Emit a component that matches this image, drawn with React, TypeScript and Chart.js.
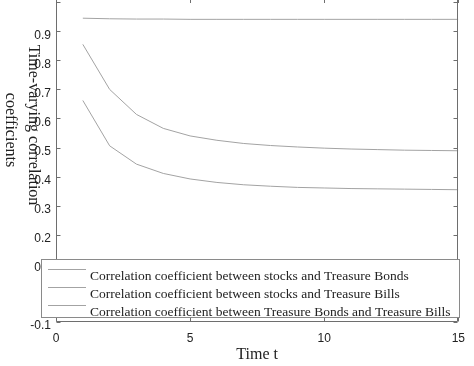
import { useEffect, useRef } from 'react';
import { Chart, registerables } from 'chart.js';

Chart.register(...registerables);

const timeSteps = [1, 2, 3, 4, 5, 6, 7, 8, 9, 10, 11, 12, 13, 14, 15];
const stocksBonds = [0.855, 0.70, 0.614, 0.566, 0.54, 0.525, 0.514, 0.507, 0.502, 0.498, 0.495, 0.493, 0.491, 0.490, 0.489];
const stocksBills = [0.662, 0.506, 0.443, 0.411, 0.392, 0.38, 0.372, 0.367, 0.363, 0.361, 0.359, 0.358, 0.357, 0.356, 0.355];
const bondsBills = [0.945, 0.943, 0.942, 0.942, 0.941, 0.941, 0.941, 0.941, 0.941, 0.941, 0.941, 0.941, 0.941, 0.941, 0.941];
const seriesLabels = [
  'Correlation coefficient between stocks and Treasure Bonds',
  'Correlation coefficient between stocks and Treasure Bills',
  'Correlation coefficient between Treasure Bonds and Treasure Bills',
];
const yTitleLines = ['Time-varying correlation', 'coefficients'];
const xTitle = 'Time t';

const OFFSET = 10; // canvas is shifted up by this many px
const LINE_COLOR = '#a3a3a3';
const AXIS_COLOR = '#6e6e6e';
const TEXT_COLOR = '#222222';
const SERIF = '"Liberation Serif", "Times New Roman", serif';
const SANS = '"Liberation Sans", Arial, sans-serif';

const framePlugin = {
  id: 'framePlugin',
  afterDraw(chart: any) {
    const { ctx, chartArea } = chart;
    const { left, right, top, bottom } = chartArea;
    const xs = chart.scales.x;
    const ys = chart.scales.y;
    const L = Math.round(left) + 0.5;
    const R = Math.round(right) - 0.5;
    const T = Math.min(Math.round(top), OFFSET) - 2.5; // top edge lies above the visible page
    const B = Math.round(bottom) - 0.5;
    ctx.save();
    ctx.strokeStyle = AXIS_COLOR;
    ctx.lineWidth = 1;
    ctx.beginPath();
    ctx.moveTo(L, T); ctx.lineTo(R, T); ctx.lineTo(R, B); ctx.lineTo(L, B); ctx.closePath();
    ctx.stroke();
    // inward ticks
    ctx.beginPath();
    ys.ticks.forEach((t: any) => {
      const py = Math.round(ys.getPixelForValue(t.value)) + 0.5;
      ctx.moveTo(L, py); ctx.lineTo(L + 4, py);
      ctx.moveTo(R, py); ctx.lineTo(R - 4, py);
    });
    xs.ticks.forEach((t: any) => {
      const px = Math.round(xs.getPixelForValue(t.value)) + 0.5;
      ctx.moveTo(px, B); ctx.lineTo(px, B - 4);
      ctx.moveTo(px, T); ctx.lineTo(px, OFFSET + 3);
    });
    ctx.stroke();

    // y title (rotated clockwise)
    ctx.fillStyle = TEXT_COLOR;
    ctx.font = '16px ' + SERIF;
    ctx.textAlign = 'center';
    ctx.textBaseline = 'middle';
    ctx.save();
    ctx.translate(33, 125 + OFFSET);
    ctx.rotate(Math.PI / 2);
    yTitleLines.forEach((line, i) => ctx.fillText(line, i * 5, i * 23));
    ctx.restore();

    // x title
    ctx.fillText(xTitle, (left + right) / 2, 355 + OFFSET);

    // legend box
    const bx = 41.5, by = 259.5 + OFFSET, bw = 418, bh = 58;
    ctx.fillStyle = '#ffffff';
    ctx.fillRect(bx, by, bw, bh);
    ctx.strokeStyle = '#8a8a8a';
    ctx.strokeRect(bx, by, bw, bh);
    ctx.font = '13.5px ' + SERIF;
    ctx.textAlign = 'left';
    ctx.textBaseline = 'alphabetic';
    chart.data.datasets.forEach((ds: any, i: number) => {
      const ly = 269.5 + OFFSET + i * 18;
      ctx.strokeStyle = ds.borderColor;
      ctx.beginPath();
      ctx.moveTo(48, ly); ctx.lineTo(86, ly);
      ctx.stroke();
      ctx.fillStyle = TEXT_COLOR;
      ctx.fillText(ds.label, 90, 279.5 + OFFSET + i * 18);
    });
    ctx.restore();
  },
};

export default function App() {
  const ref = useRef<HTMLCanvasElement>(null);
  useEffect(() => {
    if (!ref.current) return;
    const mk = (label: string, values: number[]) => ({
      label,
      data: values.map((v, i) => ({ x: timeSteps[i], y: v })),
      borderColor: LINE_COLOR,
      backgroundColor: LINE_COLOR,
      borderWidth: 1,
      pointRadius: 0,
      tension: 0,
      fill: false,
    });
    const chart = new Chart(ref.current, {
      type: 'line',
      data: {
        datasets: [
          mk(seriesLabels[0], stocksBonds),
          mk(seriesLabels[1], stocksBills),
          mk(seriesLabels[2], bondsBills),
        ],
      },
      options: {
        animation: false,
        responsive: false,
        devicePixelRatio: 1,
        layout: { padding: { top: 9, right: 7, left: 0, bottom: 0 } },
        plugins: { legend: { display: false }, tooltip: { enabled: false } },
        scales: {
          x: {
            type: 'linear',
            min: 0,
            max: 15,
            grid: { display: false, drawTicks: false },
            border: { display: false },
            ticks: { stepSize: 5, padding: 9, color: TEXT_COLOR, font: { size: 12, family: SANS } },
            afterFit: (s: any) => { s.height = 44; },
          },
          y: {
            type: 'linear',
            min: -0.1,
            max: 1.0,
            grid: { display: false, drawTicks: false },
            border: { display: false },
            ticks: {
              stepSize: 0.1,
              padding: 5,
              labelOffset: 4,
              color: TEXT_COLOR,
              font: { size: 12, family: SANS },
              callback: (v: any) => {
                const n = Number(v);
                if (n > 0.95) return '';
                if (Math.abs(n) < 1e-9) return '0';
                return n.toFixed(1);
              },
            },
            afterFit: (s: any) => { s.width = 56; },
          },
        },
      },
      plugins: [framePlugin],
    });
    return () => chart.destroy();
  }, []);
  return (
    <canvas
      ref={ref}
      width={474}
      height={376}
      style={{ position: 'absolute', left: 0, top: -OFFSET, width: 474, height: 376, display: 'block' }}
    />
  );
}
